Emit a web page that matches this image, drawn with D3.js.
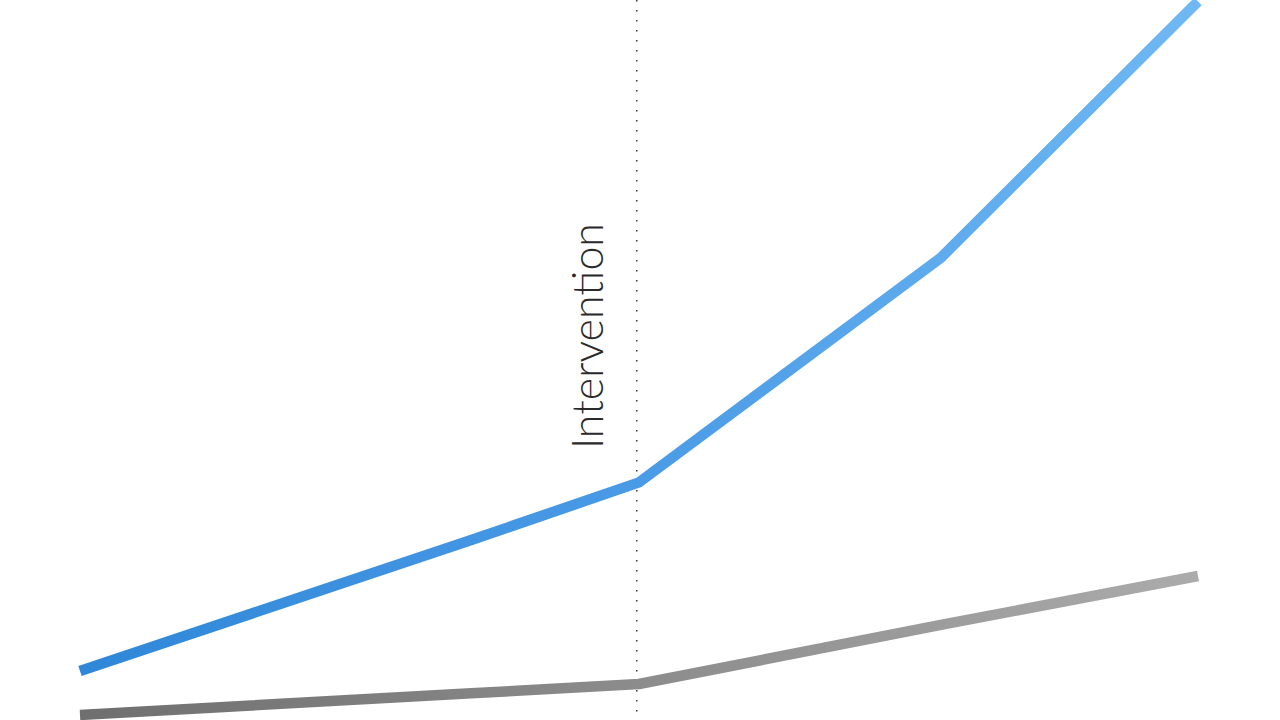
<!DOCTYPE html>
<html>
<head>
<meta charset="utf-8">
<script src="https://cdn.jsdelivr.net/npm/d3@7"></script>
<style>
  html, body { margin: 0; padding: 0; background: #fff; }
  svg { display: block; }
</style>
</head>
<body>
<script>
// data (x = time, y = outcome, arbitrary units)
let timePoints = [0, 35, 50, 77, 100]
let treated = [6.8, 25, 33, 64.2, 99.8]
let control = [0.7, 3.7, 5, 13.2, 20]
let interventionAt = 49.8
let interventionLabel = "Intervention"

let width = 1280, height = 720

//set up svg canvas
let svg = d3.select('body').append('svg')
  .attr("width", width).attr("height", height)

let x = d3.scaleLinear().domain([0, 100]).range([80, 1198])
let y = d3.scaleLinear().domain([0, 100]).range([720, 0])

// gradients, darker on the left, lighter on the right
let defs = svg.append("defs")
function addGradient(id, stops) {
  let g = defs.append("linearGradient")
    .attr("id", id)
    .attr("gradientUnits", "userSpaceOnUse")
    .attr("x1", x(0)).attr("x2", x(100))
    .attr("y1", 0).attr("y2", 0)
  g.selectAll("stop").data(stops).enter()
    .append("stop")
    .attr("offset", d => d[0])
    .attr("stop-color", d => d[1])
}
addGradient("blueGrad", [[0, "#2f87d8"], [0.5, "#4a9be6"], [1, "#6fb8f3"]])
addGradient("grayGrad", [[0, "#6f6f6f"], [0.5, "#8c8c8c"], [1, "#ababab"]])

//dotted intervention line
svg.append("line")
  .attr("x1", x(interventionAt)).attr("x2", x(interventionAt))
  .attr("y1", 0).attr("y2", 716)
  .attr("stroke", "#3a3a3a")
  .attr("stroke-width", 1.5)
  .attr("stroke-dasharray", "1.5,8.5")

//label
svg.append("text")
  .attr("transform", `translate(${x(interventionAt) - 34},336) rotate(-90)`)
  .attr("text-anchor", "middle")
  .attr("font-family", "Lato, 'Open Sans', sans-serif")
  .attr("font-weight", 300)
  .attr("font-size", 43)
  .attr("fill", "#2a2a2a")
  .text(interventionLabel)

let line = d3.line()
  .x((d, i) => x(timePoints[i]))
  .y(d => y(d))

//draw lines
svg.append("path")
  .datum(control)
  .attr("d", line)
  .attr("fill", "none")
  .attr("stroke", "url(#grayGrad)")
  .attr("stroke-width", 10.5)
  .attr("stroke-linejoin", "round")

svg.append("path")
  .datum(treated)
  .attr("d", line)
  .attr("fill", "none")
  .attr("stroke", "url(#blueGrad)")
  .attr("stroke-width", 10.5)
  .attr("stroke-linejoin", "round")
</script>
</body>
</html>
